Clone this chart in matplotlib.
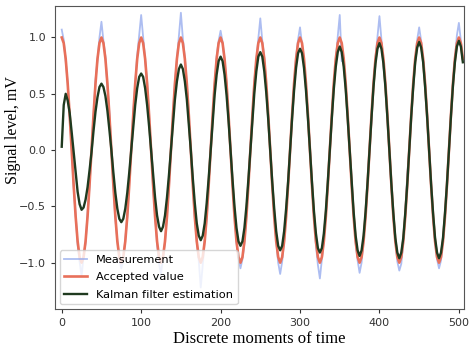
#!/usr/bin/env python3

import numpy as np
import matplotlib
matplotlib.use("Agg")
import matplotlib.pyplot as plt

# time grid (step 2.5 samples)
t = np.arange(0, 505.01, 2.5)

# accepted (true) signal
accepted = [
    1.00, 0.95, 0.81, 0.59, 0.31, 0.00, -0.31, -0.59, -0.81, -0.95, -1.00, -0.95, -0.81, -0.59, -0.31, 0.00, 0.31, 0.59, 0.81, 0.95,
    1.00, 0.95, 0.81, 0.59, 0.31, 0.00, -0.31, -0.59, -0.81, -0.95, -1.00, -0.95, -0.81, -0.59, -0.31, 0.00, 0.31, 0.59, 0.81, 0.95,
    1.00, 0.95, 0.81, 0.59, 0.31, 0.00, -0.31, -0.59, -0.81, -0.95, -1.00, -0.95, -0.81, -0.59, -0.31, 0.00, 0.31, 0.59, 0.81, 0.95,
    1.00, 0.95, 0.81, 0.59, 0.31, 0.00, -0.31, -0.59, -0.81, -0.95, -1.00, -0.95, -0.81, -0.59, -0.31, 0.00, 0.31, 0.59, 0.81, 0.95,
    1.00, 0.95, 0.81, 0.59, 0.31, 0.00, -0.31, -0.59, -0.81, -0.95, -1.00, -0.95, -0.81, -0.59, -0.31, 0.00, 0.31, 0.59, 0.81, 0.95,
    1.00, 0.95, 0.81, 0.59, 0.31, 0.00, -0.31, -0.59, -0.81, -0.95, -1.00, -0.95, -0.81, -0.59, -0.31, 0.00, 0.31, 0.59, 0.81, 0.95,
    1.00, 0.95, 0.81, 0.59, 0.31, 0.00, -0.31, -0.59, -0.81, -0.95, -1.00, -0.95, -0.81, -0.59, -0.31, 0.00, 0.31, 0.59, 0.81, 0.95,
    1.00, 0.95, 0.81, 0.59, 0.31, 0.00, -0.31, -0.59, -0.81, -0.95, -1.00, -0.95, -0.81, -0.59, -0.31, 0.00, 0.31, 0.59, 0.81, 0.95,
    1.00, 0.95, 0.81, 0.59, 0.31, 0.00, -0.31, -0.59, -0.81, -0.95, -1.00, -0.95, -0.81, -0.59, -0.31, 0.00, 0.31, 0.59, 0.81, 0.95,
    1.00, 0.95, 0.81, 0.59, 0.31, 0.00, -0.31, -0.59, -0.81, -0.95, -1.00, -0.95, -0.81, -0.59, -0.31, 0.00, 0.31, 0.59, 0.81, 0.95,
    1.00, 0.95, 0.81,
]

# noisy measurement
measurement = [
    1.07, 0.98, 0.79, 0.60, 0.29, 0.03, -0.33, -0.57, -0.84, -0.99, -1.12, -0.94, -0.83, -0.56, -0.32, 0.02, 0.30, 0.62, 0.80, 1.00,
    1.14, 0.97, 0.83, 0.57, 0.33, -0.02, -0.30, -0.61, -0.80, -0.97, -1.05, -0.98, -0.79, -0.60, -0.28, 0.01, 0.33, 0.58, 0.84, 1.02,
    1.20, 1.00, 0.80, 0.61, 0.30, 0.02, -0.32, -0.58, -0.83, -1.01, -1.10, -0.95, -0.82, -0.57, -0.33, -0.01, 0.29, 0.60, 0.81, 1.03,
    1.22, 0.99, 0.82, 0.58, 0.32, -0.03, -0.29, -0.60, -0.81, -0.98, -1.22, -1.02, -0.80, -0.62, -0.30, 0.03, 0.31, 0.57, 0.83, 0.97,
    1.06, 0.96, 0.80, 0.60, 0.28, 0.01, -0.31, -0.57, -0.82, -0.96, -1.05, -0.97, -0.83, -0.58, -0.31, 0.02, 0.32, 0.61, 0.79, 0.99,
    1.17, 0.97, 0.82, 0.56, 0.31, -0.02, -0.30, -0.59, -0.80, -1.00, -1.10, -0.99, -0.81, -0.57, -0.29, 0.01, 0.30, 0.59, 0.82, 0.98,
    1.09, 0.94, 0.76, 0.59, 0.30, 0.03, -0.31, -0.60, -0.84, -1.02, -1.14, -0.97, -0.80, -0.59, -0.32, -0.02, 0.31, 0.58, 0.80, 1.01,
    1.20, 0.79, 0.82, 0.57, 0.32, 0.00, -0.29, -0.57, -0.82, -0.98, -1.09, -1.00, -0.79, -0.60, -0.30, 0.02, 0.26, 0.60, 0.82, 1.00,
    1.19, 0.98, 0.74, 0.59, 0.29, -0.01, -0.33, -0.58, -0.80, -0.99, -1.07, -1.01, -0.82, -0.56, -0.22, 0.01, 0.31, 0.56, 0.80, 0.98,
    1.09, 0.97, 0.81, 0.60, 0.31, 0.02, -0.30, -0.59, -0.82, -0.97, -1.05, -0.98, -0.80, -0.59, -0.31, -0.01, 0.30, 0.59, 0.81, 1.02,
    1.13, 0.97, 0.80,
]

# Kalman filter estimate (amplitude grows toward the accepted value)
kalman = [
    0.03, 0.40, 0.50, 0.44, 0.33, 0.16, -0.02, -0.21, -0.37, -0.48, -0.53, -0.51, -0.44, -0.33, -0.18, -0.02, 0.17, 0.34, 0.47, 0.56,
    0.59, 0.56, 0.48, 0.35, 0.18, 0.00, -0.20, -0.38, -0.52, -0.61, -0.64, -0.61, -0.52, -0.38, -0.20, 0.00, 0.21, 0.40, 0.55, 0.65,
    0.68, 0.65, 0.55, 0.40, 0.21, 0.00, -0.22, -0.42, -0.58, -0.68, -0.72, -0.68, -0.58, -0.42, -0.22, 0.00, 0.23, 0.45, 0.61, 0.72,
    0.76, 0.72, 0.61, 0.45, 0.23, 0.00, -0.25, -0.47, -0.65, -0.76, -0.80, -0.76, -0.65, -0.47, -0.25, 0.00, 0.26, 0.49, 0.67, 0.79,
    0.83, 0.79, 0.67, 0.49, 0.26, 0.00, -0.26, -0.50, -0.69, -0.81, -0.85, -0.81, -0.69, -0.50, -0.26, 0.00, 0.27, 0.51, 0.70, 0.83,
    0.87, 0.83, 0.70, 0.51, 0.27, 0.00, -0.28, -0.52, -0.72, -0.85, -0.89, -0.85, -0.72, -0.52, -0.28, 0.00, 0.28, 0.53, 0.73, 0.86,
    0.90, 0.86, 0.73, 0.53, 0.28, 0.00, -0.28, -0.54, -0.74, -0.87, -0.91, -0.87, -0.74, -0.54, -0.28, 0.00, 0.28, 0.54, 0.74, 0.87,
    0.92, 0.87, 0.74, 0.54, 0.28, 0.00, -0.29, -0.55, -0.76, -0.89, -0.94, -0.89, -0.76, -0.55, -0.29, 0.00, 0.29, 0.56, 0.77, 0.90,
    0.95, 0.90, 0.77, 0.56, 0.29, 0.00, -0.30, -0.56, -0.78, -0.91, -0.96, -0.91, -0.78, -0.56, -0.30, 0.00, 0.30, 0.56, 0.78, 0.91,
    0.96, 0.91, 0.78, 0.56, 0.30, 0.00, -0.30, -0.56, -0.78, -0.91, -0.96, -0.91, -0.78, -0.56, -0.30, 0.00, 0.30, 0.57, 0.78, 0.92,
    0.97, 0.92, 0.78,
]

x_ticks = [0, 100, 200, 300, 400, 500]
y_ticks = [-1.0, -0.5, 0.0, 0.5, 1.0]

fig = plt.figure(figsize=(4.74, 3.51), dpi=100)
ax = fig.add_axes([0.116, 0.12, 0.863, 0.863])

ax.plot(t, measurement, color='#8aa2ec', alpha=0.7, linewidth=1.3, label='Measurement')
ax.plot(t, accepted, color='#e8705a', linewidth=1.9, label='Accepted value')
ax.plot(t, kalman, color='#1f3a1f', linewidth=1.7, label='Kalman filter estimation')

ax.set_xlim(-8.5, 506.5)
ax.set_ylim(-1.41, 1.28)
ax.set_xticks(x_ticks)
ax.set_yticks(y_ticks)
ax.tick_params(labelsize=8, colors='#333333', length=3)
for s in ax.spines.values():
    s.set_color('#555555')

ax.set_xlabel('Discrete moments of time', fontsize=12, family='Liberation Serif', labelpad=2)
ax.set_ylabel('Signal level, mV', fontsize=11.5, family='Liberation Serif')
ax.yaxis.set_label_coords(-0.082, 0.59)

ax.legend(loc='lower left', fontsize=8.2, framealpha=0.8, borderaxespad=0.4,
          labelspacing=0.65)

fig.savefig('out.png', dpi=100)
